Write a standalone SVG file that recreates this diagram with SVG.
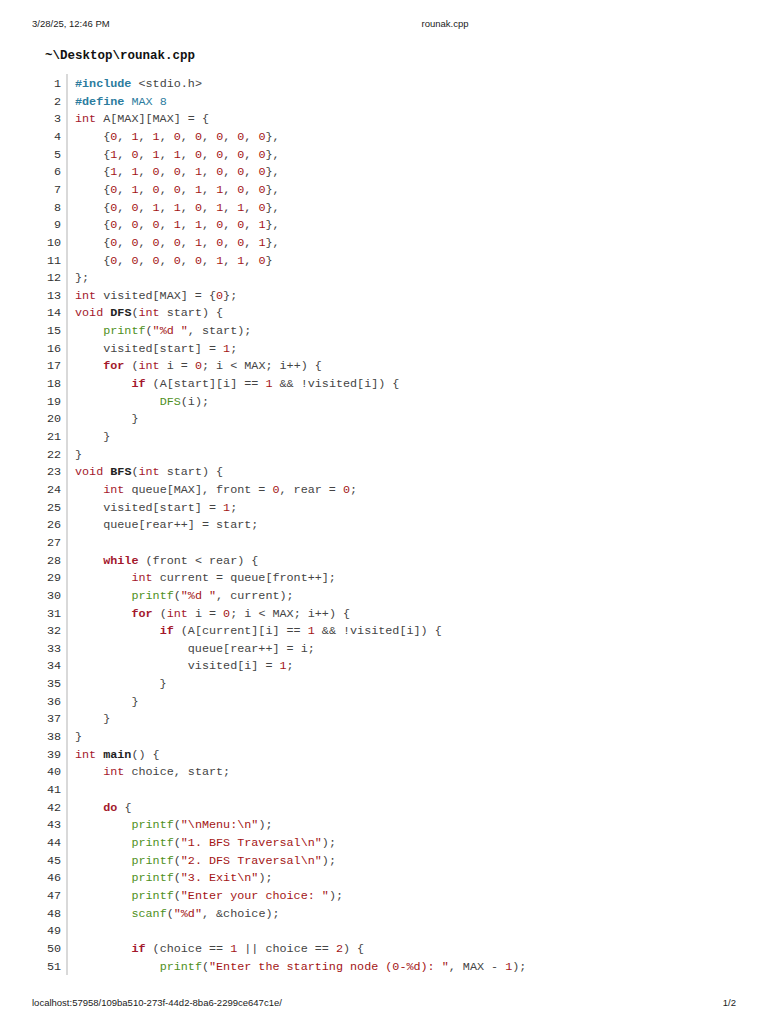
<svg xmlns="http://www.w3.org/2000/svg" width="768" height="1024" viewBox="0 0 768 1024">
<style>
.hd{font-family:"Liberation Sans",Arial,sans-serif;font-size:9.5px;fill:#222}
.c{font-family:"Liberation Mono","DejaVu Sans Mono",monospace;font-size:11.75px;fill:#444;white-space:pre}
.ln{font-family:"Liberation Mono","DejaVu Sans Mono",monospace;font-size:11.75px;fill:#333;text-anchor:end}
.k{fill:#a3182c}.kb{fill:#a3182c;font-weight:bold}.n{fill:#a31515}.s{fill:#a31515}
.p{fill:#2b7c9e;font-weight:bold}.m{fill:#2b7c9e}.f{fill:#4e8f1c}.b{fill:#222;font-weight:bold}
</style>
<rect width="768" height="1024" fill="#fff"/>
<g id="header">
<text class="hd" x="32" y="27">3/28/25, 12:46 PM</text>
<text class="hd" x="445" y="27" text-anchor="middle">rounak.cpp</text>
<text x="45" y="59" font-family="Liberation Mono,monospace" font-size="12.5" font-weight="bold" fill="#111">~\Desktop\rounak.cpp</text>
</g>
<line x1="67" y1="74" x2="67" y2="975" stroke="#ccc" stroke-width="1.5"/>
<g id="linenumbers">
<text class="ln" x="61" y="87">1</text><text class="ln" x="61" y="105">2</text><text class="ln" x="61" y="122">3</text><text class="ln" x="61" y="140">4</text><text class="ln" x="61" y="158">5</text><text class="ln" x="61" y="175">6</text><text class="ln" x="61" y="193">7</text><text class="ln" x="61" y="211">8</text><text class="ln" x="61" y="228">9</text><text class="ln" x="61" y="246">10</text><text class="ln" x="61" y="264">11</text><text class="ln" x="61" y="281">12</text><text class="ln" x="61" y="299">13</text><text class="ln" x="61" y="316">14</text><text class="ln" x="61" y="334">15</text><text class="ln" x="61" y="352">16</text><text class="ln" x="61" y="369">17</text><text class="ln" x="61" y="387">18</text><text class="ln" x="61" y="405">19</text><text class="ln" x="61" y="422">20</text><text class="ln" x="61" y="440">21</text><text class="ln" x="61" y="458">22</text><text class="ln" x="61" y="475">23</text><text class="ln" x="61" y="493">24</text><text class="ln" x="61" y="511">25</text><text class="ln" x="61" y="528">26</text><text class="ln" x="61" y="546">27</text><text class="ln" x="61" y="564">28</text><text class="ln" x="61" y="581">29</text><text class="ln" x="61" y="599">30</text><text class="ln" x="61" y="617">31</text><text class="ln" x="61" y="634">32</text><text class="ln" x="61" y="652">33</text><text class="ln" x="61" y="669">34</text><text class="ln" x="61" y="687">35</text><text class="ln" x="61" y="705">36</text><text class="ln" x="61" y="722">37</text><text class="ln" x="61" y="740">38</text><text class="ln" x="61" y="758">39</text><text class="ln" x="61" y="775">40</text><text class="ln" x="61" y="793">41</text><text class="ln" x="61" y="811">42</text><text class="ln" x="61" y="828">43</text><text class="ln" x="61" y="846">44</text><text class="ln" x="61" y="864">45</text><text class="ln" x="61" y="881">46</text><text class="ln" x="61" y="899">47</text><text class="ln" x="61" y="917">48</text><text class="ln" x="61" y="934">49</text><text class="ln" x="61" y="952">50</text><text class="ln" x="61" y="970">51</text>
</g>
<g id="code">
<text class="c" x="75" y="87"><tspan class="p">#include</tspan> &lt;stdio.h&gt;</text>
<text class="c" x="75" y="105"><tspan class="p">#define</tspan> <tspan class="m">MAX 8</tspan></text>
<text class="c" x="75" y="122"><tspan class="k">int</tspan> A[MAX][MAX] = {</text>
<text class="c" x="75" y="140">    {<tspan class="n">0</tspan>, <tspan class="n">1</tspan>, <tspan class="n">1</tspan>, <tspan class="n">0</tspan>, <tspan class="n">0</tspan>, <tspan class="n">0</tspan>, <tspan class="n">0</tspan>, <tspan class="n">0</tspan>},</text>
<text class="c" x="75" y="158">    {<tspan class="n">1</tspan>, <tspan class="n">0</tspan>, <tspan class="n">1</tspan>, <tspan class="n">1</tspan>, <tspan class="n">0</tspan>, <tspan class="n">0</tspan>, <tspan class="n">0</tspan>, <tspan class="n">0</tspan>},</text>
<text class="c" x="75" y="175">    {<tspan class="n">1</tspan>, <tspan class="n">1</tspan>, <tspan class="n">0</tspan>, <tspan class="n">0</tspan>, <tspan class="n">1</tspan>, <tspan class="n">0</tspan>, <tspan class="n">0</tspan>, <tspan class="n">0</tspan>},</text>
<text class="c" x="75" y="193">    {<tspan class="n">0</tspan>, <tspan class="n">1</tspan>, <tspan class="n">0</tspan>, <tspan class="n">0</tspan>, <tspan class="n">1</tspan>, <tspan class="n">1</tspan>, <tspan class="n">0</tspan>, <tspan class="n">0</tspan>},</text>
<text class="c" x="75" y="211">    {<tspan class="n">0</tspan>, <tspan class="n">0</tspan>, <tspan class="n">1</tspan>, <tspan class="n">1</tspan>, <tspan class="n">0</tspan>, <tspan class="n">1</tspan>, <tspan class="n">1</tspan>, <tspan class="n">0</tspan>},</text>
<text class="c" x="75" y="228">    {<tspan class="n">0</tspan>, <tspan class="n">0</tspan>, <tspan class="n">0</tspan>, <tspan class="n">1</tspan>, <tspan class="n">1</tspan>, <tspan class="n">0</tspan>, <tspan class="n">0</tspan>, <tspan class="n">1</tspan>},</text>
<text class="c" x="75" y="246">    {<tspan class="n">0</tspan>, <tspan class="n">0</tspan>, <tspan class="n">0</tspan>, <tspan class="n">0</tspan>, <tspan class="n">1</tspan>, <tspan class="n">0</tspan>, <tspan class="n">0</tspan>, <tspan class="n">1</tspan>},</text>
<text class="c" x="75" y="264">    {<tspan class="n">0</tspan>, <tspan class="n">0</tspan>, <tspan class="n">0</tspan>, <tspan class="n">0</tspan>, <tspan class="n">0</tspan>, <tspan class="n">1</tspan>, <tspan class="n">1</tspan>, <tspan class="n">0</tspan>}</text>
<text class="c" x="75" y="281">};</text>
<text class="c" x="75" y="299"><tspan class="k">int</tspan> visited[MAX] = {<tspan class="n">0</tspan>};</text>
<text class="c" x="75" y="316"><tspan class="k">void</tspan> <tspan class="b">DFS</tspan>(<tspan class="k">int</tspan> start) {</text>
<text class="c" x="75" y="334">    <tspan class="f">printf</tspan>(<tspan class="s">"%d "</tspan>, start);</text>
<text class="c" x="75" y="352">    visited[start] = <tspan class="n">1</tspan>;</text>
<text class="c" x="75" y="369">    <tspan class="kb">for</tspan> (<tspan class="k">int</tspan> i = <tspan class="n">0</tspan>; i &lt; MAX; i++) {</text>
<text class="c" x="75" y="387">        <tspan class="kb">if</tspan> (A[start][i] == <tspan class="n">1</tspan> &amp;&amp; !visited[i]) {</text>
<text class="c" x="75" y="405">            <tspan class="f">DFS</tspan>(i);</text>
<text class="c" x="75" y="422">        }</text>
<text class="c" x="75" y="440">    }</text>
<text class="c" x="75" y="458">}</text>
<text class="c" x="75" y="475"><tspan class="k">void</tspan> <tspan class="b">BFS</tspan>(<tspan class="k">int</tspan> start) {</text>
<text class="c" x="75" y="493">    <tspan class="k">int</tspan> queue[MAX], front = <tspan class="n">0</tspan>, rear = <tspan class="n">0</tspan>;</text>
<text class="c" x="75" y="511">    visited[start] = <tspan class="n">1</tspan>;</text>
<text class="c" x="75" y="528">    queue[rear++] = start;</text>
<text class="c" x="75" y="564">    <tspan class="kb">while</tspan> (front &lt; rear) {</text>
<text class="c" x="75" y="581">        <tspan class="k">int</tspan> current = queue[front++];</text>
<text class="c" x="75" y="599">        <tspan class="f">printf</tspan>(<tspan class="s">"%d "</tspan>, current);</text>
<text class="c" x="75" y="617">        <tspan class="kb">for</tspan> (<tspan class="k">int</tspan> i = <tspan class="n">0</tspan>; i &lt; MAX; i++) {</text>
<text class="c" x="75" y="634">            <tspan class="kb">if</tspan> (A[current][i] == <tspan class="n">1</tspan> &amp;&amp; !visited[i]) {</text>
<text class="c" x="75" y="652">                queue[rear++] = i;</text>
<text class="c" x="75" y="669">                visited[i] = <tspan class="n">1</tspan>;</text>
<text class="c" x="75" y="687">            }</text>
<text class="c" x="75" y="705">        }</text>
<text class="c" x="75" y="722">    }</text>
<text class="c" x="75" y="740">}</text>
<text class="c" x="75" y="758"><tspan class="k">int</tspan> <tspan class="b">main</tspan>() {</text>
<text class="c" x="75" y="775">    <tspan class="k">int</tspan> choice, start;</text>
<text class="c" x="75" y="811">    <tspan class="kb">do</tspan> {</text>
<text class="c" x="75" y="828">        <tspan class="f">printf</tspan>(<tspan class="s">"\nMenu:\n"</tspan>);</text>
<text class="c" x="75" y="846">        <tspan class="f">printf</tspan>(<tspan class="s">"1. BFS Traversal\n"</tspan>);</text>
<text class="c" x="75" y="864">        <tspan class="f">printf</tspan>(<tspan class="s">"2. DFS Traversal\n"</tspan>);</text>
<text class="c" x="75" y="881">        <tspan class="f">printf</tspan>(<tspan class="s">"3. Exit\n"</tspan>);</text>
<text class="c" x="75" y="899">        <tspan class="f">printf</tspan>(<tspan class="s">"Enter your choice: "</tspan>);</text>
<text class="c" x="75" y="917">        <tspan class="f">scanf</tspan>(<tspan class="s">"%d"</tspan>, &amp;choice);</text>
<text class="c" x="75" y="952">        <tspan class="kb">if</tspan> (choice == <tspan class="n">1</tspan> || choice == <tspan class="n">2</tspan>) {</text>
<text class="c" x="75" y="970">            <tspan class="f">printf</tspan>(<tspan class="s">"Enter the starting node (0-%d): "</tspan>, MAX - <tspan class="n">1</tspan>);</text>
</g>
<g id="footer">
<text class="hd" x="32" y="1006">localhost:57958/109ba510-273f-44d2-8ba6-2299ce647c1e/</text>
<text class="hd" x="736" y="1006" text-anchor="end">1/2</text>
</g>
</svg>
